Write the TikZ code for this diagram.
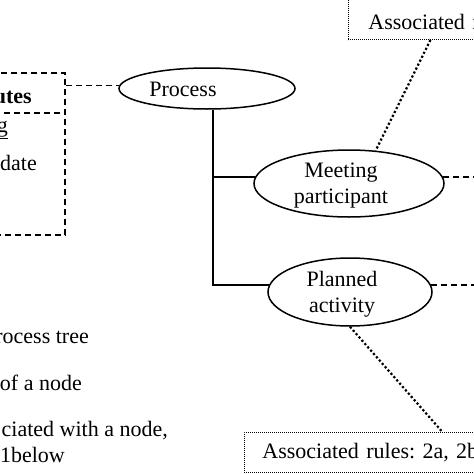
\documentclass[tikz,border=0pt]{standalone}
\usepackage{fontspec}
\setmainfont{Liberation Serif}
\usetikzlibrary{shapes.geometric,positioning}
\frenchspacing
\begin{document}
\begin{tikzpicture}[x=1pt,y=-1pt,
    every node/.style={font=\fontsize{22}{26}\selectfont,inner sep=0pt},
    proc/.style={draw,ellipse,line width=1.5pt},
    lbl/.style={align=center},
    tree/.style={line width=1.5pt},
    dashln/.style={line width=1.4pt,dash pattern=on 6pt off 4pt},
    dotln/.style={line width=2.2pt,dash pattern=on 2.2pt off 2.2pt},
    rulebox/.style={draw,line width=0.9pt,dash pattern=on 0.9pt off 1.1pt,align=left}
  ]
  \useasboundingbox (0,0) rectangle (474,474);
  \clip (0,0) rectangle (474,474);
  % Attribute box
  \node[draw,dashln,minimum width=90pt,minimum height=162pt] (attr) at (20,154) {};
  \draw[dashln] (attr.west |- 0,113) -- (attr.east |- 0,113);
  \node[anchor=base east,font=\fontsize{22}{26}\selectfont\bfseries] (attrhead) at (32,103) {utes};
  \node[anchor=base east] (attrkey) at (8,132) {\underline{g}};
  \node[anchor=base east] (attrdate) at (37,170) {date};
  % Process tree
  \node[proc,minimum width=176pt,minimum height=41pt,
    label={[lbl,xshift=-24pt,yshift=-1pt]center:Process}] (process) at (207,88.5) {};
  \node[proc,minimum width=190pt,minimum height=67pt,
    label={[lbl,xshift=-8pt,yshift=-2.5pt]center:Meeting\\participant}] (mp) at (349,183.5) {};
  \node[proc,minimum width=164pt,minimum height=68pt,
    label={[lbl,xshift=-8pt,yshift=-2.5pt]center:Planned\\activity}] (pa) at (350,292) {};
  \coordinate (trunk) at (213,0);
  \coordinate (rim) at (490,0);
  \draw[tree] (process.south -| trunk) |- (mp.176);
  \draw[tree] (process.south -| trunk) |- (pa.175);
  \draw[dashln] (attr.east |- process.178) -- (process.178);
  \draw[dashln] (mp.4) -- (mp.4 -| rim);
  \draw[dashln] (pa.5) -- (pa.5 -| rim);
  % Rule boxes
  \node[rulebox,anchor=south west,text width=124pt,inner xsep=20pt,
    text height=50pt,text depth=10pt] (rtop) at (348,40) {Associated r};
  \node[rulebox,anchor=north west,text width=360pt,inner xsep=18pt,
    minimum height=40pt] (rbot) at (244,432) {Associated rules: 2a, 2b};
  \draw[dotln] (rtop.south) -- (mp.51);
  \draw[dotln] (pa.south) -- (rbot.north);
  % Legend
  \node[anchor=base east] (legtree) at (89,343) {rocess tree};
  \node[anchor=base east] (legattr) at (82,390) {of a node};
  \node[anchor=base east] (legrule) at (168,436) {ciated with a node,};
  \node[anchor=base east] (legrulenext) at (65,462) {1below};
\end{tikzpicture}
\end{document}
